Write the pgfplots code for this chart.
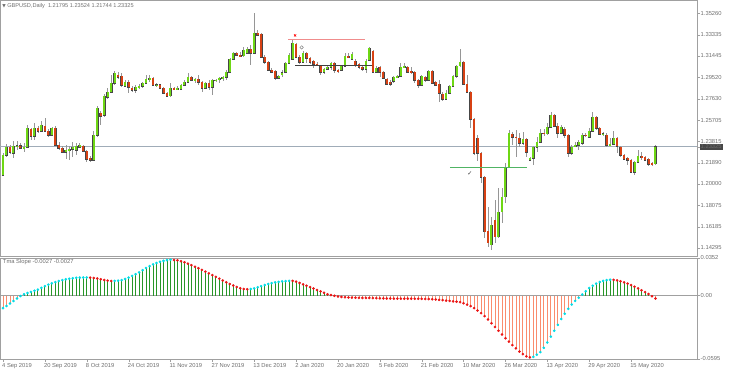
\documentclass[border=0pt]{standalone}
\usepackage{pgfplots}
\pgfplotsset{compat=1.18}
\usepackage{pgfplotstable}
\usepackage{fontspec}
\setmainfont{Liberation Sans}
\newfontfamily\symfont{DejaVu Sans}
\definecolor{upc}{RGB}{110,215,20}
\definecolor{dnc}{RGB}{215,65,20}
\definecolor{wick}{RGB}{150,150,150}
\definecolor{edge}{RGB}{70,70,70}
\definecolor{frame}{RGB}{160,160,160}
\definecolor{txt}{RGB}{110,110,110}
\definecolor{pline}{RGB}{160,172,184}
\definecolor{hgreen}{RGB}{40,150,40}
\definecolor{hsalmon}{RGB}{250,140,110}
\definecolor{dcyan}{RGB}{0,220,230}
\definecolor{dred}{RGB}{235,20,20}
\definecolor{lred}{RGB}{240,140,140}
\definecolor{lgreen}{RGB}{80,180,100}

\pgfplotstableread{
i o h l c
0 1.2079 1.2275 1.2070 1.2257
1 1.2257 1.2356 1.2240 1.2329
2 1.2329 1.2347 1.2266 1.2284
3 1.2275 1.2382 1.2231 1.2338
4 1.2338 1.2382 1.2302 1.2343
5 1.2343 1.2364 1.2311 1.2320
6 1.2320 1.2364 1.2284 1.2329
7 1.2329 1.2525 1.2320 1.2498
8 1.2490 1.2500 1.2391 1.2427
9 1.2427 1.2543 1.2391 1.2498
10 1.2498 1.2516 1.2454 1.2471
11 1.2471 1.2561 1.2463 1.2525
12 1.2516 1.2587 1.2463 1.2471
13 1.2471 1.2489 1.2418 1.2436
14 1.2436 1.2507 1.2427 1.2498
15 1.2498 1.2516 1.2338 1.2347
16 1.2347 1.2373 1.2302 1.2320
17 1.2320 1.2338 1.2275 1.2284
18 1.2284 1.2347 1.2222 1.2302
19 1.2302 1.2338 1.2213 1.2311
20 1.2311 1.2373 1.2240 1.2329
21 1.2302 1.2364 1.2257 1.2338
22 1.2329 1.2364 1.2320 1.2347
23 1.2338 1.2347 1.2284 1.2293
24 1.2293 1.2302 1.2195 1.2222
25 1.2231 1.2248 1.2195 1.2213
26 1.2213 1.2471 1.2204 1.2436
27 1.2436 1.2694 1.2418 1.2677
28 1.2632 1.2650 1.2525 1.2605
29 1.2614 1.2802 1.2596 1.2784
30 1.2775 1.2855 1.2757 1.2819
31 1.2819 1.2971 1.2810 1.2900
32 1.2900 1.3007 1.2882 1.2989
33 1.2971 1.2998 1.2935 1.2953
34 1.2962 1.2989 1.2864 1.2882
35 1.2873 1.2926 1.2864 1.2909
36 1.2909 1.2926 1.2810 1.2864
37 1.2855 1.2873 1.2819 1.2837
38 1.2837 1.2882 1.2810 1.2864
39 1.2864 1.2891 1.2846 1.2873
40 1.2873 1.2909 1.2855 1.2900
41 1.2900 1.2971 1.2891 1.2935
42 1.2935 1.2971 1.2909 1.2944
43 1.2944 1.2953 1.2873 1.2882
44 1.2882 1.2900 1.2864 1.2886
45 1.2886 1.2891 1.2846 1.2855
46 1.2855 1.2864 1.2802 1.2810
47 1.2810 1.2819 1.2775 1.2784
48 1.2790 1.2900 1.2775 1.2855
49 1.2855 1.2864 1.2846 1.2851
50 1.2851 1.2873 1.2837 1.2855
51 1.2846 1.2891 1.2837 1.2882
52 1.2882 1.2926 1.2873 1.2909
53 1.2909 1.2989 1.2900 1.2953
54 1.2953 1.2962 1.2917 1.2926
55 1.2926 1.2944 1.2900 1.2935
56 1.2935 1.2971 1.2882 1.2909
57 1.2909 1.2917 1.2819 1.2855
58 1.2855 1.2909 1.2846 1.2900
59 1.2900 1.2926 1.2837 1.2864
60 1.2864 1.2935 1.2793 1.2926
61 1.2926 1.2935 1.2909 1.2930
62 1.2930 1.2953 1.2900 1.2944
63 1.2944 1.2962 1.2917 1.2953
64 1.2953 1.3016 1.2926 1.2998
65 1.2998 1.3123 1.2989 1.3114
66 1.3114 1.3176 1.3105 1.3167
67 1.3167 1.3176 1.3140 1.3149
68 1.3149 1.3176 1.3131 1.3145
69 1.3145 1.3221 1.3131 1.3194
70 1.3167 1.3221 1.3158 1.3203
71 1.3203 1.3239 1.3060 1.3167
72 1.3167 1.3524 1.3158 1.3346
73 1.3346 1.3372 1.3319 1.3328
74 1.3337 1.3346 1.3123 1.3131
75 1.3131 1.3149 1.3069 1.3087
76 1.3087 1.3096 1.3007 1.3016
77 1.3016 1.3033 1.2989 1.2998
78 1.3007 1.3016 1.2926 1.2944
79 1.2944 1.2971 1.2935 1.2962
80 1.2975 1.3016 1.2953 1.2995
81 1.2998 1.3087 1.2989 1.3078
82 1.3078 1.3167 1.3069 1.3149
83 1.3114 1.3283 1.3105 1.3256
84 1.3248 1.3256 1.3123 1.3131
85 1.3131 1.3149 1.3069 1.3087
86 1.3087 1.3185 1.3078 1.3167
87 1.3167 1.3176 1.3078 1.3123
88 1.3123 1.3131 1.3069 1.3087
89 1.3096 1.3105 1.3033 1.3069
90 1.3069 1.3087 1.3051 1.3065
91 1.3060 1.3065 1.2971 1.2998
92 1.2998 1.3033 1.2980 1.3025
93 1.3025 1.3051 1.3016 1.3042
94 1.3042 1.3087 1.3016 1.3078
95 1.3078 1.3087 1.2989 1.3016
96 1.3016 1.3025 1.2989 1.3010
97 1.3016 1.3060 1.3007 1.3051
98 1.3051 1.3167 1.3042 1.3140
99 1.3140 1.3167 1.3123 1.3131
100 1.3114 1.3176 1.3105 1.3160
101 1.3100 1.3114 1.3042 1.3060
102 1.3069 1.3078 1.3025 1.3042
103 1.3042 1.3051 1.3007 1.3025
104 1.3025 1.3114 1.2989 1.3096
105 1.3105 1.3221 1.3096 1.3212
106 1.3185 1.3194 1.2989 1.2998
107 1.2998 1.3051 1.2989 1.3033
108 1.3042 1.3051 1.2953 1.2998
109 1.2998 1.3007 1.2935 1.2944
110 1.2935 1.2944 1.2882 1.2891
111 1.2909 1.2926 1.2873 1.2891
112 1.2917 1.2962 1.2900 1.2953
113 1.2953 1.2971 1.2944 1.2962
114 1.2962 1.3078 1.2953 1.3042
115 1.3042 1.3078 1.3033 1.3051
116 1.3042 1.3051 1.2989 1.2998
117 1.3007 1.3042 1.2980 1.2998
118 1.2998 1.3007 1.2900 1.2926
119 1.2926 1.2935 1.2855 1.2882
120 1.2882 1.2971 1.2873 1.2962
121 1.2953 1.2962 1.2909 1.2926
122 1.2926 1.3016 1.2917 1.3007
123 1.3007 1.3016 1.2891 1.2900
124 1.2909 1.2917 1.2873 1.2882
125 1.2891 1.2926 1.2730 1.2810
126 1.2800 1.2820 1.2739 1.2757
127 1.2757 1.2837 1.2748 1.2810
128 1.2810 1.2882 1.2802 1.2873
129 1.2873 1.2971 1.2864 1.2962
130 1.2962 1.3060 1.2944 1.3051
131 1.3055 1.3203 1.3042 1.3087
132 1.3087 1.3096 1.2882 1.2891
133 1.2891 1.2971 1.2810 1.2819
134 1.2819 1.2828 1.2498 1.2579
135 1.2579 1.2587 1.2257 1.2275
136 1.2409 1.2436 1.2204 1.2275
137 1.2275 1.2284 1.2008 1.2061
138 1.2061 1.2070 1.1517 1.1571
139 1.1579 1.1794 1.1437 1.1472
140 1.1455 1.1704 1.1410 1.1633
141 1.1678 1.1856 1.1472 1.1526
142 1.1526 1.1963 1.1517 1.1749
143 1.1749 1.1963 1.1651 1.1883
144 1.1883 1.2186 1.1829 1.2150
145 1.2150 1.2480 1.2141 1.2454
146 1.2445 1.2463 1.2347 1.2418
147 1.2418 1.2480 1.2240 1.2414
148 1.2409 1.2454 1.2329 1.2364
149 1.2364 1.2463 1.2347 1.2400
150 1.2400 1.2409 1.2240 1.2284
151 1.2213 1.2240 1.2204 1.2231
152 1.2231 1.2338 1.2168 1.2329
153 1.2329 1.2418 1.2284 1.2373
154 1.2373 1.2489 1.2364 1.2454
155 1.2454 1.2489 1.2427 1.2450
156 1.2450 1.2543 1.2445 1.2507
157 1.2507 1.2641 1.2498 1.2614
158 1.2614 1.2623 1.2507 1.2516
159 1.2516 1.2543 1.2409 1.2454
160 1.2454 1.2525 1.2445 1.2507
161 1.2489 1.2507 1.2409 1.2436
162 1.2436 1.2445 1.2240 1.2275
163 1.2275 1.2347 1.2257 1.2329
164 1.2338 1.2373 1.2329 1.2347
165 1.2347 1.2391 1.2302 1.2373
166 1.2364 1.2454 1.2347 1.2436
167 1.2436 1.2454 1.2418 1.2432
168 1.2418 1.2498 1.2409 1.2471
169 1.2471 1.2641 1.2463 1.2596
170 1.2596 1.2605 1.2480 1.2498
171 1.2498 1.2507 1.2436 1.2445
172 1.2445 1.2463 1.2427 1.2449
173 1.2436 1.2454 1.2329 1.2347
174 1.2347 1.2409 1.2338 1.2356
175 1.2356 1.2471 1.2347 1.2409
176 1.2409 1.2418 1.2275 1.2338
177 1.2329 1.2338 1.2240 1.2257
178 1.2257 1.2266 1.2213 1.2222
179 1.2231 1.2240 1.2168 1.2213
180 1.2213 1.2222 1.2097 1.2106
181 1.2106 1.2204 1.2079 1.2195
182 1.2195 1.2302 1.2186 1.2248
183 1.2248 1.2284 1.2213 1.2235
184 1.2240 1.2248 1.2204 1.2213
185 1.2222 1.2231 1.2159 1.2177
186 1.2186 1.2195 1.2159 1.2175
187 1.21795 1.23524 1.21744 1.23325
}\candles

\pgfplotstableread{
i v d
0 -0.0118 u
1 -0.0098 u
2 -0.0075 u
3 -0.0052 u
4 -0.0028 u
5 -0.0005 u
6 0.0012 u
7 0.0024 u
8 0.0034 u
9 0.0045 u
10 0.0056 u
11 0.0072 u
12 0.0088 u
13 0.0102 u
14 0.0115 u
15 0.0126 u
16 0.0136 u
17 0.0145 u
18 0.0152 u
19 0.0158 u
20 0.0162 u
21 0.0166 u
22 0.0168 u
23 0.0169 u
24 0.0170 u
25 0.0168 d
26 0.0165 d
27 0.0160 d
28 0.0153 d
29 0.0146 d
30 0.0140 d
31 0.0136 d
32 0.0137 u
33 0.0139 u
34 0.0145 u
35 0.0155 u
36 0.0168 u
37 0.0184 u
38 0.0200 u
39 0.0217 u
40 0.0238 u
41 0.0258 u
42 0.0276 u
43 0.0292 u
44 0.0305 u
45 0.0316 u
46 0.0325 u
47 0.0332 u
48 0.0335 u
49 0.0334 d
50 0.0330 d
51 0.0322 d
52 0.0312 d
53 0.0299 d
54 0.0285 d
55 0.0270 d
56 0.0256 d
57 0.0240 d
58 0.0224 d
59 0.0208 d
60 0.0192 d
61 0.0175 d
62 0.0158 d
63 0.0141 d
64 0.0124 d
65 0.0108 d
66 0.0094 d
67 0.0080 d
68 0.0069 d
69 0.0062 d
70 0.0059 d
71 0.0061 u
72 0.0067 u
73 0.0077 u
74 0.0088 u
75 0.0099 u
76 0.0108 u
77 0.0116 u
78 0.0123 u
79 0.0128 u
80 0.0133 u
81 0.0136 u
82 0.0138 u
83 0.0137 d
84 0.0130 d
85 0.0118 d
86 0.0105 d
87 0.0092 d
88 0.0079 d
89 0.0066 d
90 0.0052 d
91 0.0039 d
92 0.0026 d
93 0.0012 d
94 0.0004 d
95 -0.0003 d
96 -0.0009 d
97 -0.0013 d
98 -0.0016 d
99 -0.0018 d
100 -0.0020 d
101 -0.0021 d
102 -0.0022 d
103 -0.0023 d
104 -0.0023 d
105 -0.0023 d
106 -0.0024 d
107 -0.0025 d
108 -0.0026 d
109 -0.0027 d
110 -0.0028 d
111 -0.0028 d
112 -0.0029 d
113 -0.0029 d
114 -0.0029 d
115 -0.0029 d
116 -0.0029 d
117 -0.0029 d
118 -0.0030 d
119 -0.0030 d
120 -0.0031 d
121 -0.0032 d
122 -0.0033 d
123 -0.0035 d
124 -0.0037 d
125 -0.0040 d
126 -0.0043 d
127 -0.0047 d
128 -0.0051 d
129 -0.0055 d
130 -0.0058 d
131 -0.0062 d
132 -0.0072 d
133 -0.0085 d
134 -0.0099 d
135 -0.0118 d
136 -0.0140 d
137 -0.0165 d
138 -0.0193 d
139 -0.0225 d
140 -0.0260 d
141 -0.0295 d
142 -0.0330 d
143 -0.0365 d
144 -0.0400 d
145 -0.0432 d
146 -0.0465 d
147 -0.0495 d
148 -0.0525 d
149 -0.0550 d
150 -0.0570 d
151 -0.0580 d
152 -0.0575 u
153 -0.0555 u
154 -0.0530 u
155 -0.0490 u
156 -0.0440 u
157 -0.0385 u
158 -0.0330 u
159 -0.0275 u
160 -0.0220 u
161 -0.0170 u
162 -0.0125 u
163 -0.0085 u
164 -0.0050 u
165 -0.0020 u
166 0.0010 u
167 0.0040 u
168 0.0070 u
169 0.0092 u
170 0.0112 u
171 0.0127 u
172 0.0138 u
173 0.0145 u
174 0.0148 u
175 0.0147 d
176 0.0142 d
177 0.0134 d
178 0.0124 d
179 0.0112 d
180 0.0098 d
181 0.0083 d
182 0.0067 d
183 0.0050 d
184 0.0032 d
185 0.0014 d
186 -0.0006 d
187 -0.0027 d
}\tma

\begin{document}
\begin{tikzpicture}[font=\fontsize{5.8}{6.5}\selectfont]
\useasboundingbox (0,0) rectangle (729pt,370pt);
% ---------------- price panel ----------------
\begin{axis}[at={(0pt,114pt)}, anchor=south west, scale only axis,
  width=697pt, height=255.5pt,
  xmin=-0.86, xmax=198.9, ymin=1.13565, ymax=1.3640,
  axis line style={frame}, xtick=\empty,
  ytick={1.35260,1.33335,1.31445,1.29520,1.27630,1.25705,1.23815,1.21890,1.20000,1.18075,1.16185,1.14295},
  yticklabels={1.35260,1.33335,1.31445,1.29520,1.27630,1.25705,1.23815,1.21890,1.20000,1.18075,1.16185,1.14295},
  ytick pos=right, yticklabel pos=right, tick align=outside, major tick length=2.5pt,
  tick style={frame}, yticklabel style={text=txt, inner sep=1pt},
  extra y ticks={1.23325}, extra y tick labels={1.23325},
  extra y tick style={tick label style={fill=black!72, text=white, inner sep=0.7pt}},
]
\addplot[pline, line width=0.6pt] coordinates {(-0.86,1.23325) (198.9,1.23325)};
% wicks
\addplot[draw=none, mark=none, error bars/.cd, y dir=both, y explicit, error mark=none,
  error bar style={draw=wick, line width=0.6pt}]
  table[x=i, y=o, y error plus expr=\thisrow{h}-\thisrow{o}, y error minus expr=\thisrow{o}-\thisrow{l}] {\candles};
% body outlines
\addplot[draw=none, mark=none,
  error bars/.cd, y dir=both, y explicit, error mark=none,
  error bar style={draw=edge, line width=2.7pt}]
  table[x=i, y expr=(\thisrow{o}+\thisrow{c})/2, y error expr={max(abs(\thisrow{c}-\thisrow{o})/2,0.0002)+0.00035}] {\candles};
% up bodies
\addplot[draw=none, mark=none, restrict expr to domain={\thisrow{c}-\thisrow{o}}{0:1},
  error bars/.cd, y dir=both, y explicit, error mark=none,
  error bar style={draw=upc, line width=2.0pt}]
  table[x=i, y expr=(\thisrow{o}+\thisrow{c})/2, y error expr={max(abs(\thisrow{c}-\thisrow{o})/2,0.0002)}] {\candles};
% down bodies
\addplot[draw=none, mark=none, restrict expr to domain={\thisrow{o}-\thisrow{c}}{0.00001:1},
  error bars/.cd, y dir=both, y explicit, error mark=none,
  error bar style={draw=dnc, line width=2.0pt}]
  table[x=i, y expr=(\thisrow{o}+\thisrow{c})/2, y error expr={max(abs(\thisrow{c}-\thisrow{o})/2,0.0002)}] {\candles};
% drawn objects
\addplot[lred, line width=0.8pt] coordinates {(81.7,1.3289) (103.7,1.3289)};
\addplot[black!75, line width=0.7pt] coordinates {(83.7,1.3060) (105.7,1.3060)};
\addplot[lgreen, line width=0.8pt] coordinates {(128.1,1.2148) (150.1,1.2148)};
\addplot[only marks, mark=x, mark size=1.5pt, red, line width=0.6pt] coordinates {(83.7,1.3328)};
\addplot[only marks, mark=o, mark size=1.7pt, gray, line width=0.5pt] coordinates {(85.6,1.3221)};
\node[text=black!80, inner sep=0pt] at (axis cs:133.8,1.2092) {\symfont\fontsize{6}{6}\selectfont ✓};
\node[anchor=north west, text=txt, inner sep=0pt, font=\fontsize{5.6}{6.5}\selectfont] at (rel axis cs:0.003,0.988)
  {{\symfont\fontsize{4.5}{5}\selectfont ▼}\ GBPUSD,Daily\ \ 1.21795 1.23524 1.21744 1.23325};
\end{axis}
% ---------------- indicator panel ----------------
\begin{axis}[at={(0pt,11pt)}, anchor=south west, scale only axis,
  width=697pt, height=101pt,
  xmin=-0.86, xmax=198.9, ymin=-0.0595, ymax=0.0352,
  axis line style={frame}, clip=false, scaled y ticks=false,
  xtick={0,12,24,36,48,60,72,84,96,108,120,132,144,156,168,180},
  xticklabels={4 Sep 2019,20 Sep 2019,8 Oct 2019,24 Oct 2019,11 Nov 2019,27 Nov 2019,13 Dec 2019,2 Jan 2020,20 Jan 2020,5 Feb 2020,21 Feb 2020,10 Mar 2020,26 Mar 2020,13 Apr 2020,29 Apr 2020,15 May 2020},
  xtick pos=bottom, xticklabel style={anchor=north west, inner sep=0pt, xshift=-1pt, yshift=-1.8pt, text=txt},
  ytick={-0.0595,0,0.0352}, yticklabels={-0.0595,0.00,0.0352},
  ytick pos=right, yticklabel pos=right, tick align=outside, major tick length=2.5pt,
  tick style={frame}, yticklabel style={text=txt, inner sep=1pt},
]
\addplot[frame, line width=0.5pt] coordinates {(-0.86,0) (198.9,0)};
\addplot[ycomb, hgreen, line width=0.8pt, restrict y to domain=0:1] table[x=i, y=v] {\tma};
\addplot[ycomb, hsalmon, line width=0.8pt, restrict y to domain=-1:0] table[x=i, y=v] {\tma};
\addplot[scatter, only marks, mark=*, mark size=1.1pt, scatter src=explicit symbolic,
  scatter/classes={u={mark=*, draw=dcyan, fill=dcyan}, d={mark=*, draw=dred, fill=dred}}]
  table[x=i, y=v, meta=d] {\tma};
\node[anchor=north west, text=txt, inner sep=0pt] at (rel axis cs:0.004,0.985) {Tma Slope -0.0027 -0.0027};
\end{axis}
\end{tikzpicture}
\end{document}
